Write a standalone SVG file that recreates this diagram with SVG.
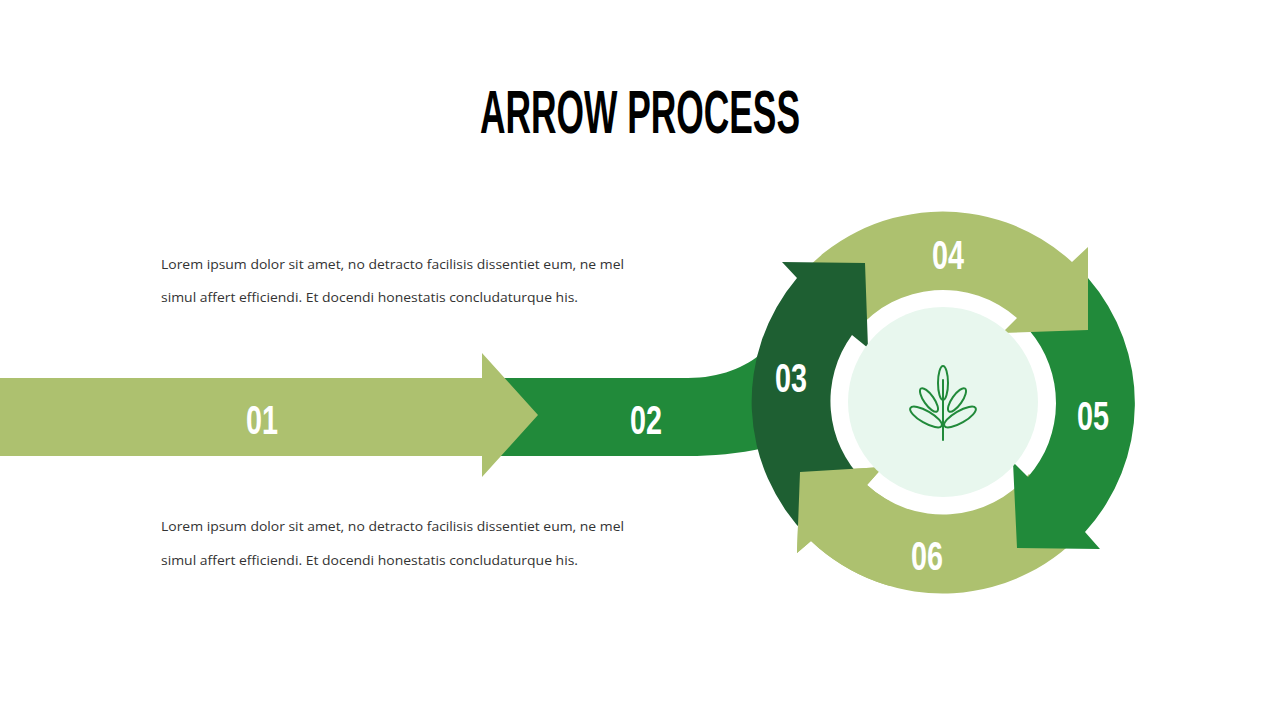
<svg xmlns="http://www.w3.org/2000/svg" width="1280" height="720" viewBox="0 0 1280 720">
<style>
.num{font-family:"Liberation Sans",sans-serif;font-weight:bold;font-size:40px;fill:#fff;text-anchor:middle}
.body{font-family:"Open Sans","Liberation Sans",sans-serif;font-size:13px;fill:#333}
.lt{fill:#ADC16F}.md{fill:#218A3A}.dk{fill:#1E5F32}
</style>
<defs>
<clipPath id="bl"><rect x="700" y="450" width="190" height="200"/></clipPath>
<path id="p06" d="M1089,525 A191,191 0 0 1 811,541 L797,553 L800,472 L883,467 L867,485 A112,112 0 0 0 1029,474 Z"/>
</defs>
<rect width="1280" height="720" fill="#fff"/>
<text x="640" y="133" font-family="Liberation Sans,sans-serif" font-weight="bold" font-size="62" text-anchor="middle" textLength="320" lengthAdjust="spacingAndGlyphs" fill="#000">ARROW PROCESS</text>
<text class="body" x="161" y="269" textLength="463" lengthAdjust="spacingAndGlyphs">Lorem ipsum dolor sit amet, no detracto facilisis dissentiet eum, ne mel</text>
<text class="body" x="161" y="302" textLength="417" lengthAdjust="spacingAndGlyphs">simul affert efficiendi. Et docendi honestatis concludaturque his.</text>
<text class="body" x="161" y="531" textLength="463" lengthAdjust="spacingAndGlyphs">Lorem ipsum dolor sit amet, no detracto facilisis dissentiet eum, ne mel</text>
<text class="body" x="161" y="565" textLength="417" lengthAdjust="spacingAndGlyphs">simul affert efficiendi. Et docendi honestatis concludaturque his.</text>
<g id="connectors">
<path id="n02" class="md" d="M500,378 L688,378 C730,378 760,360 780,335 L790,440 C760,452 720,456 688,456 L500,456 Z"/>
</g>
<g id="n01"><path class="lt" d="M0,378 L482,378 L482,353 L538,415 L482,477 L482,456 L0,456 Z"/></g>
<g id="n06"><use href="#p06" class="lt"/></g>
<g id="n05"><path class="md" d="M1088,278 A191,191 0 0 1 1085,532 L1100,549 L1017,548 L1013,462 L1028,477 A112,112 0 0 0 1029,330 Z"/></g>
<g id="n04"><path class="lt" d="M797,279 A191,191 0 0 1 1072,262 L1088,247 L1088,330 L1002,333 L1017,318 A112,112 0 0 0 857,330 Z"/></g>
<g id="n03"><path class="dk" d="M808,537 A191,191 0 0 1 797,278 L782,262 L865,263 L868,348 L852,335 A112,112 0 0 0 864,481 Z"/></g>
<use href="#p06" class="lt" clip-path="url(#bl)"/>
<g id="center">
<circle cx="943" cy="402" r="95" fill="#E8F7EE"/>
<g fill="none" stroke="#218A3A" stroke-width="2" stroke-linecap="round">
<line x1="943" y1="380" x2="943" y2="440"/>
<ellipse cx="943" cy="383" rx="5" ry="17"/>
<ellipse cx="929" cy="400" rx="5" ry="14" transform="rotate(-35 929 400)"/>
<ellipse cx="957" cy="400" rx="5" ry="14" transform="rotate(35 957 400)"/>
<ellipse cx="926" cy="417" rx="6" ry="18" transform="rotate(-60 926 417)"/>
<ellipse cx="960" cy="417" rx="6" ry="18" transform="rotate(60 960 417)"/>
</g>
</g>
<g id="labels">
<text class="num" x="262" y="434" textLength="32" lengthAdjust="spacingAndGlyphs">01</text>
<text class="num" x="646" y="434" textLength="32" lengthAdjust="spacingAndGlyphs">02</text>
<text class="num" x="791" y="392" textLength="32" lengthAdjust="spacingAndGlyphs">03</text>
<text class="num" x="948" y="269" textLength="32" lengthAdjust="spacingAndGlyphs">04</text>
<text class="num" x="1093" y="430" textLength="32" lengthAdjust="spacingAndGlyphs">05</text>
<text class="num" x="927" y="570" textLength="32" lengthAdjust="spacingAndGlyphs">06</text>
</g>
</svg>
